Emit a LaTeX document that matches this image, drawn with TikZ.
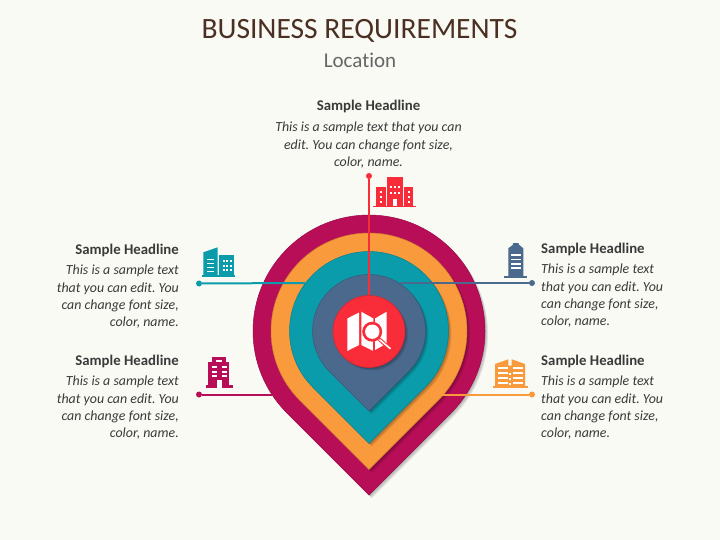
\documentclass[tikz,border=0pt]{standalone}
\usepackage{fontspec}
\setmainfont[RawFeature={-liga}]{Carlito}
\definecolor{bgc}{HTML}{F9FAF4}
\definecolor{pinkc}{HTML}{B80D57}
\definecolor{orangec}{HTML}{F99B3D}
\definecolor{tealc}{HTML}{0B9CAC}
\definecolor{slatec}{HTML}{4A698C}
\definecolor{redc}{HTML}{F92D3A}
\definecolor{titlec}{HTML}{4A2F22}
\definecolor{subc}{HTML}{666666}
\definecolor{textc}{HTML}{3A3A3A}
\frenchspacing
\tikzset{
  head/.style={font=\fontsize{14.8}{17}\selectfont\bfseries,text=textc,inner sep=0pt},
  bodyl/.style={font=\fontsize{13.9}{17.3}\selectfont\itshape,text=textc,inner sep=0pt,align=right,anchor=north east},
  bodyr/.style={font=\fontsize{13.9}{17.3}\selectfont\itshape,text=textc,inner sep=0pt,align=left,anchor=north west},
  bodyc/.style={font=\fontsize{13.9}{17.3}\selectfont\itshape,text=textc,inner sep=0pt,align=center,anchor=north},
  dot/.style={circle,inner sep=0pt,minimum size=6pt,fill=#1},
  conn/.style={line width=2pt,draw=#1},
}
% teardrop: centre x, centre y, radius
\newcommand{\pinpath}[3]{(#1,#2+1.41421*#3) -- (#1-.70711*#3,#2+.70711*#3) arc[start angle=225,end angle=-45,radius=#3 pt] -- cycle}
\newcommand{\pinshape}[4]{%
  \foreach \d in {1,2,3,4}{\fill[black,opacity=.08,shift={(\d*.75pt,-\d*.75pt)}] \pinpath{#1}{#2}{#3};}
  \fill[#4] \pinpath{#1}{#2}{#3};
  \draw[#4!82!black,line width=.5pt] \pinpath{#1}{#2}{#3};}
\begin{document}
\begin{tikzpicture}[x=1pt,y=-1pt]
\useasboundingbox (0,0) rectangle (720,540);
\fill[bgc] (0,0) rectangle (720,540);
% titles
\node[font=\fontsize{29.5}{32}\selectfont,text=titlec,inner sep=0pt] (title) at (359.5,30.5) {BUSINESS REQUIREMENTS};
\node[font=\fontsize{21}{24}\selectfont,text=subc,inner sep=0pt] (sub) at (360,60.5) {Location};
% texts
\node[head] (h1) at (368.5,106.5) {Sample Headline};
\node[bodyc] (b1) at (368.5,122) {This is a sample text that you can\\edit. You can change font size,\\color, name.};
\node[head,anchor=east] (h2) at (179,250.5) {Sample Headline};
\node[bodyl] (b2) at (179,265) {This is a sample text\\that you can edit. You\\can change font size,\\color, name.};
\node[head,anchor=east] (h3) at (179,361.5) {Sample Headline};
\node[bodyl] (b3) at (179,376) {This is a sample text\\that you can edit. You\\can change font size,\\color, name.};
\node[head,anchor=west] (h4) at (541,249.5) {Sample Headline};
\node[bodyr] (b4) at (541,264) {This is a sample text\\that you can edit. You\\can change font size,\\color, name.};
\node[head,anchor=west] (h5) at (541,361.5) {Sample Headline};
\node[bodyr] (b5) at (541,376) {This is a sample text\\that you can edit. You\\can change font size,\\color, name.};
% connector ends
\node[dot=pinkc] (d3) at (199,394.5) {};
\node[dot=orangec] (d5) at (532,394.5) {};
\node[dot=tealc] (d2) at (199,283.5) {};
\node[dot=slatec] (d4) at (532,283) {};
\node[dot=redc] (d1) at (369,176) {};
\pinshape{369}{331}{116}{pinkc}
\coordinate (e3) at (272,394.5);
\coordinate (e5) at (442,394.5);
\coordinate (e2) at (305,283);
\coordinate (e4) at (400,283);
\pinshape{369}{331}{98}{orangec}
\pinshape{369}{331}{79.5}{tealc}
\draw[conn=pinkc] (d3) -- (e3);
\draw[conn=orangec] (d5) -- (e5);
\draw[conn=tealc] (d2) -- (e2);
\pinshape{369}{331}{56.5}{slatec}
\draw[conn=slatec] (d4) -- (e4);
% hub
\foreach \d in {1,2,3,4}{\fill[black,opacity=.08] (369+\d*.75,331.5+\d*.75) circle[radius=36pt];}
\node[circle,fill=redc,draw=redc!85!black,line width=.6pt,inner sep=0pt,minimum size=72pt] (hub) at (369,331.5) {};
\draw[conn=redc] (d1) -- (hub);
% map icon
\fill[white] (347.3,318.5) -- (359,312.5) -- (359,345) -- (347.3,351) -- cycle;
\fill[white] (361.3,311.7) -- (373.3,318.5) -- (373.3,345) -- (373.3,351) -- (361.3,345) -- cycle;
\fill[white] (375,318.5) -- (386.7,311.7) -- (386.7,343.5) -- (375,350) -- cycle;
\draw[redc,line width=3.6pt] (379,339) -- (391.5,350);
\fill[redc] (372.2,331.7) circle[radius=10pt];
\fill[white] (372.3,331.7) circle[radius=7.2pt];
\draw[redc,line width=1.6pt] (374,341.5) -- (374,352);
\draw[white,line width=1.6pt] (379.5,339.5) -- (390.5,348.8);
% red buildings
\fill[redc] (373.3,206) rectangle (415.5,207.3);
\fill[redc] (376,187) rectangle (386,206);
\fill[redc] (387.3,177.3) rectangle (403,206);
\fill[redc] (404.3,187) rectangle (413.3,206);
\foreach \y in {191,196,201}{\fill[white] (379.5,\y) rectangle +(2,2); \fill[white] (407.5,\y) rectangle +(2,2);}
\foreach \x in {390,394,398}{\fill[white] (\x,186) rectangle +(2,2); \fill[white] (\x,192) rectangle +(2,2);}
\fill[white] (393,199.5) rectangle (397,206);
% teal buildings
\fill[tealc] (201.7,275) rectangle (235,277);
\fill[tealc] (203.3,252.3) -- (217.7,247.3) -- (217.7,275) -- (203.3,275) -- cycle;
\fill[tealc] (219.3,255) rectangle (234,275);
\foreach \y in {258.5,262.5,266.5,270.5}{\fill[white] (206.7,\y) rectangle (214.3,\y+1.6);}
\foreach \x in {222.8,226.2,229.8}{\foreach \y in {260,264.5,269}{\fill[white] (\x,\y) rectangle +(2,2);}}
% magenta building
\fill[pinkc] (211.7,357.3) rectangle (226,362.5);
\fill[pinkc] (207.7,362) rectangle (229.3,386);
\fill[pinkc] (205.7,385) rectangle (232.7,387.7);
\fill[white] (216,359.7) rectangle (221.7,361.5);
\foreach \y in {366,370.5,375}{\fill[white] (212.3,\y) rectangle (216.7,\y+2); \fill[white] (222.3,\y) rectangle (226.7,\y+2);}
\fill[white] (217.3,380) rectangle (221.7,388);
% blue tower
\fill[slatec] (504.3,276) rectangle (527.3,278.3);
\fill[slatec] (508.3,276.5) -- (508.3,248.3) -- (512.7,245) -- (513.3,243) -- (518.3,243) -- (519.3,245) -- (523.3,248.3) -- (523.3,276.5) -- cycle;
\foreach \y in {254.3,258.6,262.9,267.2}{\fill[white] (511,\y) rectangle (521,\y+1.6);}
% orange building
\fill[orangec] (492.7,386) rectangle (527.7,387.7);
\fill[orangec] (495,386.2) -- (495,364) -- (508.3,359.3) -- (508.3,365.7) -- (511.7,365.7) -- (511.7,359.3) -- (525,364) -- (525,386.2) -- cycle;
\foreach \y in {367,371.7,376.7,381.7}{\fill[white] (497.5,\y) rectangle (507.7,\y+1.8); \fill[white] (512.5,\y) rectangle (522.5,\y+1.8);}
\foreach \y in {373,378,383}{\fill[white] (509.2,\y) rectangle +(1.6,1.8);}
\end{tikzpicture}
\end{document}
